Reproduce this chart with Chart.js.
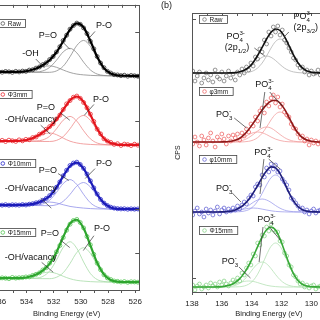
<!DOCTYPE html>
<html>
<head>
<meta charset="utf-8">
<script src="https://cdn.jsdelivr.net/npm/chart.js@4.4.0/dist/chart.umd.min.js"></script>
<style>
  html, body { margin: 0; padding: 0; background: #fff; overflow: hidden; }
  body { width: 320px; height: 320px; position: relative; }
  canvas { position: absolute; top: 0; }
  #left { left: -20px; }
  #right { left: 160px; }
</style>
</head>
<body>
<canvas id="left" width="166" height="320"></canvas>
<canvas id="right" width="192" height="320"></canvas>
<script>
// ---- O 1s panel (a) ----
const eFitO = [537.3, 536.8, 536.3, 535.8, 535.3, 534.8, 534.3, 533.8, 533.3, 532.8, 532.3, 531.8, 531.3,
  530.8, 530.3, 529.8, 529.3, 528.8, 528.3, 527.8, 527.3, 526.8, 526.3, 525.8, 525.3];
const bgO = [4, 4, 4, 4, 4, 4, 3.9, 3.8, 3.6, 3.4, 3.1, 2.8, 2.4, 1.9, 1.4, 0.9, 0.5, 0.2, 0.1, 0, 0, 0, 0, 0, 0];

const oRawPO = [0,0,0,0,0,0,0,0,0,0.1,0.5,2.2,7.4,17.5,29.4,35,29.4,17.5,7.4,2.2,0.5,0.1,0,0,0];
const oRawPdO = [0,0,0,0,0,0,0,0.1,0.3,1.6,5.5,13,21.9,26,21.9,13,5.5,1.6,0.3,0.1,0,0,0,0,0];
const oRawOH = [0,0,0,0,0,0.1,0.4,1.5,3.5,5.9,7,5.9,3.5,1.5,0.4,0.1,0,0,0,0,0,0,0,0,0];
const o3PO = [0,0,0,0,0,0,0,0,0,0.1,0.4,1.8,6.1,14.5,24.4,29,24.4,14.5,6.1,1.8,0.4,0.1,0,0,0];
const o3PdO = [0,0,0,0,0,0,0,0.1,0.4,1.7,5.7,13.5,22.7,27,22.7,13.5,5.7,1.7,0.4,0.1,0,0,0,0,0];
const o3OH = [0,0,0,0,0,0.1,0.6,1.9,4.5,7.6,9,7.6,4.5,1.9,0.6,0.1,0,0,0,0,0,0,0,0,0];
const o10PO = [0,0,0,0,0,0,0,0,0,0.1,0.3,1.6,5.5,13,21.9,26,21.9,13,5.5,1.6,0.3,0.1,0,0,0];
const o10PdO = [0,0,0,0,0,0,0,0.1,0.4,1.8,5.9,14,23.5,28,23.5,14,5.9,1.8,0.4,0.1,0,0,0,0,0];
const o10OH = [0,0,0,0,0,0.1,0.3,0.8,2,3.4,4,3.4,2,0.8,0.3,0.1,0,0,0,0,0,0,0,0,0];
const o15PO = [0,0,0,0,0,0,0,0,0,0.1,0.4,2.1,7.1,17,28.6,34,28.6,17,7.1,2.1,0.4,0.1,0,0,0];
const o15PdO = [0,0,0,0,0,0,0,0.1,0.5,2.4,8.2,19.5,32.8,39,32.8,19.5,8.2,2.4,0.5,0.1,0,0,0,0,0];
const o15OH = [0,0,0,0,0,0.1,0.4,1.5,3.5,5.9,7,5.9,3.5,1.5,0.4,0.1,0,0,0,0,0,0,0,0,0];

const eMeasO = [537.3, 537.05, 536.8, 536.55, 536.3, 536.05, 535.8, 535.55, 535.3, 535.05, 534.8, 534.55,
  534.3, 534.05, 533.8, 533.55, 533.3, 533.05, 532.8, 532.55, 532.3, 532.05, 531.8, 531.55, 531.3, 531.05,
  530.8, 530.55, 530.3, 530.05, 529.8, 529.55, 529.3, 529.05, 528.8, 528.55, 528.3, 528.05, 527.8, 527.55,
  527.3, 527.05, 526.8, 526.55, 526.3, 526.05, 525.8, 525.55, 525.3];
const oRawMeas = [4.5,3.8,4.2,3.5,4.6,4.0,3.7,4.4,4.1,3.6,4.5,4.0,4.8,4.6,5.8,6.2,7.8,9.0,11.4,13.2,
  16.5,19.6,24.2,29.5,35.8,41.2,47.3,51.0,53.4,52.2,48.6,42.8,35.0,27.4,19.6,13.0,8.2,4.6,2.8,1.2,
  0.9,0.2,0.6,-0.3,0.4,0.0,-0.4,0.5,0.1];
const o3Meas = [5.2,3.6,4.8,3.2,4.9,3.8,4.6,3.5,4.8,4.2,3.6,5.1,4.2,5.6,5.3,7.4,8.1,10.8,12.2,15.9,
  18.6,21.4,26.3,30.2,35.9,41.6,45.0,48.3,49.5,47.2,43.0,37.6,31.2,23.8,16.0,11.2,6.2,3.9,2.5,0.6,
  1.2,-0.5,0.8,0.3,-0.6,0.7,-0.2,0.4,0];
const o10Meas = [4.3,3.9,4.1,4.5,3.8,4.2,4.0,4.4,3.9,4.3,4.2,4.0,4.5,4.2,4.9,5.4,6.3,7.1,8.9,10.8,
  13.6,17.0,22.1,27.5,33.7,39.3,44.1,46.6,47.5,45.2,41.3,35.4,28.6,21.5,15.2,9.8,6.1,3.6,1.9,1.0,
  0.4,0.2,0.3,-0.1,0.2,0,0.1,-0.2,0];
const o15Meas = [4.6,3.7,4.4,3.9,4.8,3.6,4.3,4.0,3.5,4.7,4.1,4.4,4.6,5.2,5.3,6.8,7.9,9.4,12.3,14.6,
  19.2,23.8,30.6,37.1,45.2,52.6,58.7,62.4,63.5,60.4,54.9,46.2,37.8,28.1,19.2,12.6,7.4,4.3,2.6,1.1,
  0.7,0.1,0.5,-0.2,0.3,0.2,-0.1,0.3,0];
const offsetO = [217, 147, 82, 8];

// ---- P 2p panel (b) ----
const eFitP = [138.1, 137.8, 137.5, 137.2, 136.9, 136.6, 136.3, 136.0, 135.7, 135.4, 135.1, 134.8, 134.5,
  134.2, 133.9, 133.6, 133.3, 133.0, 132.7, 132.4, 132.1, 131.8, 131.5, 131.2, 130.9, 130.6, 130.3, 130.0,
  129.7, 129.4, 129.1];
const pRawA = [0,0,0,0,0,0,0,0,0,0,0,0.1,0.2,0.8,2.1,5,9.9,17,25,31.5,34,31.5,25,17,9.9,5,2.1,0.8,0.2,0.1,0];
const pRawB = [0,0,0,0,0,0,0,0,0,0.1,0.4,1.1,2.5,4.9,8.5,12.5,15.7,17,15.7,12.5,8.5,4.9,2.5,1.1,0.4,0.1,0,0,0,0,0];
const p3A = [0,0,0,0,0,0,0,0,0,0,0,0,0.2,0.7,1.9,4.4,8.7,15,22.1,27.8,30,27.8,22.1,15,8.7,4.4,1.9,0.7,0.2,0,0];
const p3B = [0,0,0,0,0,0,0,0,0,0.1,0.3,0.9,2.2,4.4,7.5,11,13.9,15,13.9,11,7.5,4.4,2.2,0.9,0.3,0.1,0,0,0,0,0];
const p3C = [0,0,0,0,0,0,0,0.1,0.2,0.6,1.5,2.9,5,7.4,9.3,10,9.3,7.4,5,2.9,1.5,0.6,0.2,0.1,0,0,0,0,0,0,0];
const p10A = [0,0,0,0,0,0,0,0,0,0,0.1,0.3,0.9,2.3,5.4,10.8,18.5,27.2,34.3,37,34.3,27.2,18.5,10.8,5.4,2.3,0.9,0.3,0.1,0,0];
const p10B = [0,0,0,0,0,0,0,0,0.1,0.3,0.8,1.9,3.8,6.5,9.6,12,13,12,9.6,6.5,3.8,1.9,0.8,0.3,0.1,0,0,0,0,0,0];
const p10C = [0,0,0,0,0,0,0,0.1,0.3,0.6,1.2,2,2.9,3.7,4,3.7,2.9,2,1.2,0.6,0.3,0.1,0,0,0,0,0,0,0,0,0];
const p15A = [0,0,0,0,0,0,0,0,0,0,0.1,0.3,1,2.8,6.4,12.8,22,32.3,40.7,44,40.7,32.3,22,12.8,6.4,2.8,1,0.3,0.1,0,0];
const p15B = [0,0,0,0,0,0,0,0,0.2,0.6,1.6,3.7,7.3,12.5,18.4,23.2,25,23.2,18.4,12.5,7.3,3.7,1.6,0.6,0.2,0,0,0,0,0,0];
const p15C = [0,0,0,0,0,0,0.1,0.4,0.9,1.7,3,4.4,5.6,6,5.6,4.4,3,1.7,0.9,0.4,0.1,0,0,0,0,0,0,0,0,0,0];

const eMeasP = [138.1, 137.95, 137.8, 137.65, 137.5, 137.35, 137.2, 137.05, 136.9, 136.75, 136.6, 136.45,
  136.3, 136.15, 136.0, 135.85, 135.7, 135.55, 135.4, 135.25, 135.1, 134.95, 134.8, 134.65, 134.5, 134.35,
  134.2, 134.05, 133.9, 133.75, 133.6, 133.45, 133.3, 133.15, 133.0, 132.85, 132.7, 132.55, 132.4, 132.25,
  132.1, 131.95, 131.8, 131.65, 131.5, 131.35, 131.2, 131.05, 130.9, 130.75, 130.6, 130.45, 130.3, 130.15,
  130.0, 129.85, 129.7, 129.55, 129.4, 129.25, 129.1];
const pRawMeas = [-4,2,-8,-3,1,-10,-5,0,-7,-2, -9,3,-4,-6,1,-8,-3,2,-5,-1, -7,1,-2,4,0,6,3,10,7,16,
  14,24,21,33,29,41,37,46,41,47, 38,43,33,30,25,21,15,13,8,5, 6,1,3,-2,2,-1,0,3,-2,1,0];
const p3Meas = [3,-2,5,0,-4,6,2,-3,4,9, 1,-5,5,2,8,3,-2,6,1,7, 4,8,2,9,6,13,10,18,16,25,
  21,31,34,29,40,36,44,47,39,45, 35,38,30,27,25,18,14,13,8,4, 6,1,3,-3,2,-1,1,-2,0,2,-1];
const p10Meas = [2,-3,1,4,-2,0,-5,3,-1,2, -3,1,5,-2,2,4,0,3,1,4, 2,6,3,7,10,8,14,17,16,25,
  28,27,37,35,44,40,48,43,47,40, 41,33,30,27,22,14,12,9,6,3, 4,0,2,-2,1,3,-1,1,2,-2,0];
const p15Meas = [-1,2,-3,1,3,-2,0,2,-1,4, 1,3,0,5,2,6,3,1,4,7, 5,9,6,14,12,19,24,22,33,31,
  44,42,52,51,60,56,63,57,55,55, 46,45,34,31,22,20,12,10,6,3, 4,0,2,-1,1,2,-2,0,1,-1,0];
const offsetP = [219, 150, 80, 5];

const FONT = 'Arial, "Liberation Sans", Helvetica, sans-serif';
Chart.defaults.font.family = FONT;
Chart.defaults.color = '#222';

function spectrum(eFit, eMeas, bg, comps, meas, off, st) {
  const base = i => (bg ? bg[i] : 0) + off;
  const env = eFit.map((e, i) => ({ x: e, y: comps.reduce((s, c) => s + c[i], base(i)) }));
  const sets = [
    { data: env, borderColor: st.fit, borderWidth: st.fitW, pointRadius: 0, order: 0 },
    { data: eMeas.map((e, i) => ({ x: e, y: meas[i] + off })), showLine: false, pointRadius: st.r,
      pointBorderWidth: 0.8, borderColor: st.meas, backgroundColor: 'rgba(0,0,0,0)', order: 1 }
  ];
  comps.forEach(c => sets.push({
    data: eFit.map((e, i) => ({ x: e, y: c[i] + base(i) })),
    borderColor: st.comp, borderWidth: 0.8, pointRadius: 0, order: 2
  }));
  return sets;
}

function rich(ctx, parts, x, y, size) {
  parts.forEach(p => {
    ctx.font = size + 'px ' + FONT;
    ctx.fillText(p.t, x, y);
    x += ctx.measureText(p.t).width;
    if (p.sub || p.sup) {
      ctx.font = (size * 0.68) + 'px ' + FONT;
      let w = 0;
      if (p.sub) { ctx.fillText(p.sub, x, y + size * 0.32); w = ctx.measureText(p.sub).width; }
      if (p.sup) { ctx.fillText(p.sup, x, y - size * 0.4); w = Math.max(w, ctx.measureText(p.sup).width); }
      x += w;
    }
  });
}

const deco = {
  id: 'deco',
  afterDraw(chart, args, o) {
    const { ctx, chartArea: a, scales: { x, y } } = chart;
    ctx.save();
    ctx.strokeStyle = '#555';
    ctx.lineWidth = 1;
    ctx.strokeRect(Math.round(a.left) + 0.5, Math.round(a.top) + 0.5, Math.round(a.right - a.left), Math.round(a.bottom - a.top));
    ctx.beginPath();
    x.ticks.forEach(t => {
      const px = Math.round(x.getPixelForValue(t.value)) + 0.5;
      ctx.moveTo(px, a.top); ctx.lineTo(px, a.top + 3);
    });
    const sx = o.side === 'right' ? a.right : a.left, dir = o.side === 'right' ? -1 : 1;
    o.yTicks.forEach(v => {
      const py = Math.round(y.getPixelForValue(v)) + 0.5;
      ctx.moveTo(sx, py); ctx.lineTo(sx + dir * 4, py);
    });
    ctx.stroke();

    ctx.strokeStyle = '#333';
    ctx.lineWidth = 0.7;
    ctx.beginPath();
    o.lines.forEach(l => {
      ctx.moveTo(x.getPixelForValue(l[0]), y.getPixelForValue(l[1]));
      ctx.lineTo(x.getPixelForValue(l[2]), y.getPixelForValue(l[3]));
    });
    ctx.stroke();

    ctx.fillStyle = '#111';
    ctx.textBaseline = 'middle';
    ctx.textAlign = 'left';
    o.labels.forEach(l => rich(ctx, l.parts, x.getPixelForValue(l.e), y.getPixelForValue(l.y), 9));

    o.boxes.forEach(b => {
      const cx = x.getPixelForValue(b.e), top = Math.round(y.getPixelForValue(b.y)) + 0.5;
      ctx.font = '6.5px ' + FONT;
      const w = ctx.measureText(b.t).width;
      const left = Math.round(cx - 6) + 0.5;
      ctx.fillStyle = '#fff';
      ctx.fillRect(left, top, w + 15, 8);
      ctx.strokeStyle = '#444';
      ctx.lineWidth = 0.8;
      ctx.strokeRect(left, top, w + 15, 8);
      ctx.beginPath();
      ctx.arc(cx, top + 4, 1.8, 0, 2 * Math.PI);
      ctx.strokeStyle = b.c;
      ctx.stroke();
      ctx.fillStyle = '#222';
      ctx.fillText(b.t, cx + 5, top + 4.3);
    });
    ctx.restore();
  }
};

const txt = s => [{ t: s }];
const po4 = [{ t: 'PO', sub: '4', sup: '3-' }];
const po3 = [{ t: 'PO', sub: '3', sup: '-' }];

function xAxis(min, max, h) {
  return {
    type: 'linear', reverse: true, min: min, max: max,
    ticks: { stepSize: 1, autoSkip: false, includeBounds: false, maxRotation: 0, padding: 4,
      font: { size: 8 }, color: '#222',
      callback: v => Math.abs(Math.round(v) % 2) === 0 ? Math.round(v) : '' },
    grid: { drawOnChartArea: false, tickLength: 3, color: '#555' },
    border: { color: '#555' },
    title: { display: true, text: 'Binding Energy (eV)', font: { size: 7.5 }, color: '#222', padding: { top: 0, bottom: 2 } },
    afterFit: s => { s.height = h; }
  };
}

const baseOpts = {
  responsive: false, animation: false, events: [],
  elements: { line: { cubicInterpolationMode: 'monotone', fill: false } }
};

const stO = [
  { fit: '#000', fitW: 2.2, meas: '#333', comp: '#8c8c8c', r: 2 },
  { fit: '#e3141c', fitW: 2.2, meas: '#ec2a30', comp: '#ef8b8b', r: 2 },
  { fit: '#1b1bb8', fitW: 2.2, meas: '#2626cc', comp: '#9292ea', r: 2 },
  { fit: '#2ea52e', fitW: 2.2, meas: '#55c855', comp: '#a8dca8', r: 2 }
];
const stP = [
  { fit: '#111', fitW: 1.6, meas: '#7a7a7a', comp: '#b4b4b4', r: 1.9 },
  { fit: '#8e1a1a', fitW: 1.6, meas: '#ef6a6a', comp: '#f2a0a0', r: 1.9 },
  { fit: '#1f1f7a', fitW: 1.6, meas: '#6868d6', comp: '#a0a0ec', r: 1.9 },
  { fit: '#38a838', fitW: 1.6, meas: '#8cd68c', comp: '#b6e2b6', r: 1.9 }
];

const setsO = [].concat(
  spectrum(eFitO, eMeasO, bgO, [oRawPO, oRawPdO, oRawOH], oRawMeas, offsetO[0], stO[0]),
  spectrum(eFitO, eMeasO, bgO, [o3PO, o3PdO, o3OH], o3Meas, offsetO[1], stO[1]),
  spectrum(eFitO, eMeasO, bgO, [o10PO, o10PdO, o10OH], o10Meas, offsetO[2], stO[2]),
  spectrum(eFitO, eMeasO, bgO, [o15PO, o15PdO, o15OH], o15Meas, offsetO[3], stO[3])
);
const setsP = [].concat(
  spectrum(eFitP, eMeasP, null, [pRawA, pRawB], pRawMeas, offsetP[0], stP[0]),
  spectrum(eFitP, eMeasP, null, [p3A, p3B, p3C], p3Meas, offsetP[1], stP[1]),
  spectrum(eFitP, eMeasP, null, [p10A, p10B, p10C], p10Meas, offsetP[2], stP[2]),
  spectrum(eFitP, eMeasP, null, [p15A, p15B, p15C], p15Meas, offsetP[3], stP[3])
);

new Chart(document.getElementById('left'), {
  type: 'line',
  data: { datasets: setsO },
  options: Object.assign({}, baseOpts, {
    layout: { padding: { left: 14, right: 2, top: 1, bottom: 0 } },
    scales: { x: xAxis(525.7, 536.4, 30), y: { display: false, min: 0, max: 289 } },
    plugins: {
      legend: { display: false }, tooltip: { enabled: false },
      deco: {
        side: 'right',
        yTicks: [261, 216, 171, 126, 82, 37],
        boxes: [
          { e: 535.75, y: 275, t: 'Raw', c: '#555' },
          { e: 535.75, y: 203, t: 'Φ3mm', c: '#ec2a30' },
          { e: 535.75, y: 133, t: 'Φ10mm', c: '#2626cc' },
          { e: 535.75, y: 63, t: 'Φ15mm', c: '#55c855' }
        ],
        labels: [
          { e: 533.11, y: 258, parts: txt('P=O') }, { e: 528.89, y: 268, parts: txt('P-O') },
          { e: 534.32, y: 240, parts: txt('-OH') },
          { e: 533.25, y: 185, parts: txt('P=O') }, { e: 529.11, y: 193, parts: txt('P-O') },
          { e: 535.61, y: 173, parts: txt('-OH/vacancy') },
          { e: 533.11, y: 121, parts: txt('P=O') }, { e: 528.89, y: 128, parts: txt('P-O') },
          { e: 535.61, y: 103, parts: txt('-OH/vacancy') },
          { e: 532.96, y: 57, parts: txt('P=O') }, { e: 529.04, y: 62, parts: txt('P-O') },
          { e: 535.61, y: 33, parts: txt('-OH/vacancy') }
        ],
        lines: [
          [531.46, 253, 530.82, 244], [528.96, 262, 529.54, 253], [533.32, 234, 532.68, 225],
          [531.54, 180, 530.82, 172], [529.04, 188, 529.75, 177], [532.96, 167, 532.25, 158],
          [531.68, 118, 530.89, 111], [528.96, 123, 529.68, 113], [532.96, 93, 532.18, 83],
          [531.54, 51, 530.82, 43], [529.04, 55, 529.82, 40], [532.89, 28, 532.04, 18]
        ]
      }
    }
  }),
  plugins: [deco]
});

new Chart(document.getElementById('right'), {
  type: 'line',
  data: { datasets: setsP },
  options: Object.assign({}, baseOpts, {
    layout: { padding: { left: 32, right: 0, top: 13, bottom: 0 } },
    scales: { x: xAxis(127.7, 138, 28), y: { display: false, min: 0, max: 279 } },
    plugins: {
      legend: { display: false }, tooltip: { enabled: false },
      deco: {
        side: 'left',
        yTicks: [273, 14],
        boxes: [
          { e: 137.16, y: 277, t: 'Raw', c: '#777' },
          { e: 137.16, y: 205, t: 'φ3mm', c: '#ef6a6a' },
          { e: 137.16, y: 137, t: 'φ10mm', c: '#6868d6' },
          { e: 137.16, y: 66, t: 'Φ15mm', c: '#8cd68c' }
        ],
        labels: [
          { e: 131.19, y: 275, parts: po4 }, { e: 131.19, y: 264, parts: [{ t: '(2p', sub: '3/2' }, { t: ')' }] },
          { e: 135.69, y: 255, parts: po4 }, { e: 135.81, y: 244, parts: [{ t: '(2p', sub: '1/2' }, { t: ')' }] },
          { e: 133.76, y: 207, parts: po4 }, { e: 136.39, y: 177, parts: po3 },
          { e: 133.82, y: 139, parts: po4 }, { e: 136.39, y: 103, parts: po3 },
          { e: 133.63, y: 72, parts: po4 }, { e: 136.01, y: 30, parts: po3 }
        ],
        lines: [
          [131.51, 260, 131.83, 255], [133.82, 244, 133.12, 236],
          [133.12, 200, 133.44, 164], [132.79, 200, 131.96, 186], [135.17, 174, 134.34, 164],
          [133.18, 133, 133.44, 98], [132.86, 133, 132.09, 123], [135.30, 99, 134.72, 90],
          [133.24, 65, 133.50, 30], [132.86, 66, 132.09, 52], [134.85, 25, 134.08, 14]
        ]
      }
    }
  }),
  plugins: [deco, {
    id: 'tag',
    afterDraw(chart) {
      const { ctx, chartArea: a } = chart;
      ctx.save();
      ctx.fillStyle = '#222';
      ctx.textBaseline = 'middle';
      ctx.font = '9px ' + FONT;
      ctx.fillText('(b)', 1, 6);
      ctx.translate(a.left - 14, (a.top + a.bottom) / 2);
      ctx.rotate(-Math.PI / 2);
      ctx.textAlign = 'center';
      ctx.font = '7px ' + FONT;
      ctx.fillText('CPS', 0, 0);
      ctx.restore();
    }
  }]
});
</script>
</body>
</html>
